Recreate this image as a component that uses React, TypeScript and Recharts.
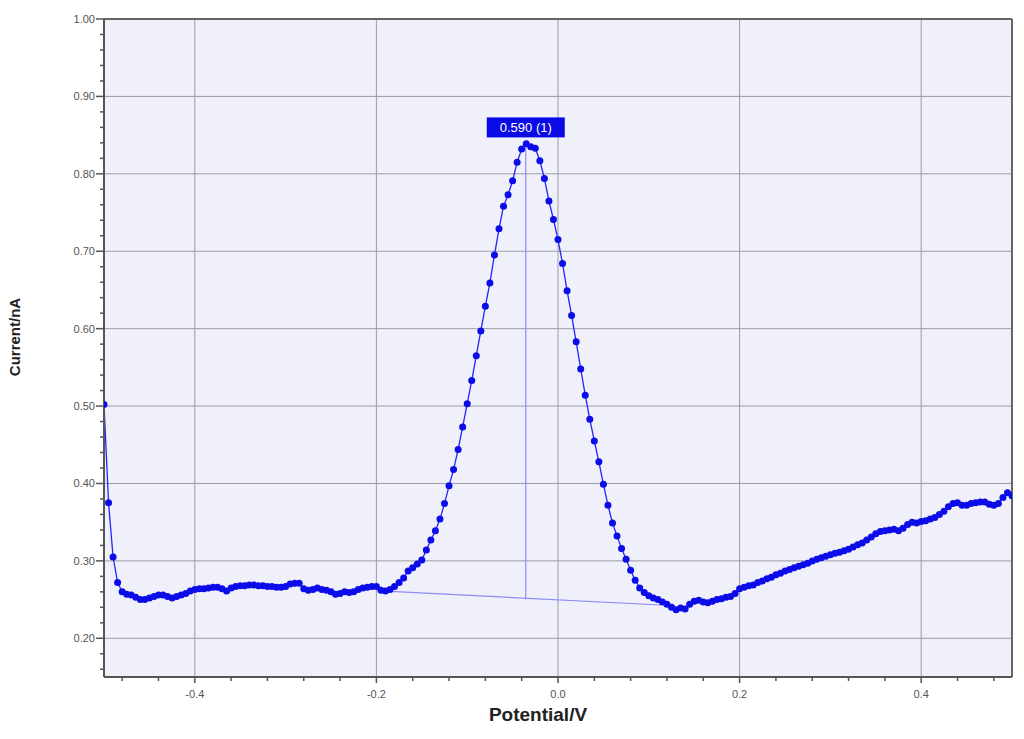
import React from 'react';
import {
  LineChart,
  Line,
  XAxis,
  YAxis,
  CartesianGrid,
  ReferenceLine,
  ReferenceDot,
} from 'recharts';

// Potential (V), sweep grid of the instrument
const POTENTIAL: number[] = [
  -0.5, -0.495, -0.49, -0.485, -0.48, -0.475, -0.47, -0.465, -0.46, -0.455,
  -0.45, -0.445, -0.44, -0.435, -0.43, -0.425, -0.42, -0.415, -0.41, -0.405,
  -0.4, -0.395, -0.39, -0.385, -0.38, -0.375, -0.37, -0.365, -0.36, -0.355,
  -0.35, -0.345, -0.34, -0.335, -0.33, -0.325, -0.32, -0.315, -0.31, -0.305,
  -0.3, -0.295, -0.29, -0.285, -0.28, -0.275, -0.27, -0.265, -0.26, -0.255,
  -0.25, -0.245, -0.24, -0.235, -0.23, -0.225, -0.22, -0.215, -0.21, -0.205,
  -0.2, -0.195, -0.19, -0.185, -0.18, -0.175, -0.17, -0.165, -0.16, -0.155,
  -0.15, -0.145, -0.14, -0.135, -0.13, -0.125, -0.12, -0.115, -0.11, -0.105,
  -0.1, -0.095, -0.09, -0.085, -0.08, -0.075, -0.07, -0.065, -0.06, -0.055,
  -0.05, -0.045, -0.04, -0.035, -0.03, -0.025, -0.02, -0.015, -0.01, -0.005,
  0, 0.005, 0.01, 0.015, 0.02, 0.025, 0.03, 0.035, 0.04, 0.045,
  0.05, 0.055, 0.06, 0.065, 0.07, 0.075, 0.08, 0.085, 0.09, 0.095,
  0.1, 0.105, 0.11, 0.115, 0.12, 0.125, 0.13, 0.135, 0.14, 0.145,
  0.15, 0.155, 0.16, 0.165, 0.17, 0.175, 0.18, 0.185, 0.19, 0.195,
  0.2, 0.205, 0.21, 0.215, 0.22, 0.225, 0.23, 0.235, 0.24, 0.245,
  0.25, 0.255, 0.26, 0.265, 0.27, 0.275, 0.28, 0.285, 0.29, 0.295,
  0.3, 0.305, 0.31, 0.315, 0.32, 0.325, 0.33, 0.335, 0.34, 0.345,
  0.35, 0.355, 0.36, 0.365, 0.37, 0.375, 0.38, 0.385, 0.39, 0.395,
  0.4, 0.405, 0.41, 0.415, 0.42, 0.425, 0.43, 0.435, 0.44, 0.445,
  0.45, 0.455, 0.46, 0.465, 0.47, 0.475, 0.48, 0.485, 0.49, 0.495,
  0.5,
];

// Current (nA)
const CURRENT: number[] = [
  0.502, 0.375, 0.305, 0.272, 0.26, 0.257, 0.256, 0.253, 0.25, 0.25,
  0.252, 0.254, 0.256, 0.256, 0.254, 0.252, 0.254, 0.256, 0.258, 0.261,
  0.263, 0.264, 0.264, 0.265, 0.266, 0.266, 0.264, 0.261, 0.265, 0.267,
  0.268, 0.268, 0.269, 0.269, 0.268, 0.268, 0.267, 0.267, 0.266, 0.266,
  0.267, 0.27, 0.271, 0.271, 0.264, 0.262, 0.263, 0.265, 0.263, 0.262,
  0.26, 0.257, 0.258, 0.26, 0.259, 0.26, 0.263, 0.265, 0.266, 0.267,
  0.267, 0.262, 0.261, 0.263, 0.267, 0.272, 0.278, 0.287, 0.291, 0.296,
  0.301, 0.314, 0.327, 0.339, 0.354, 0.374, 0.397, 0.418, 0.444, 0.473,
  0.503, 0.533, 0.565, 0.597, 0.629, 0.659, 0.695, 0.729, 0.758, 0.773,
  0.791, 0.815, 0.832, 0.839, 0.835, 0.833, 0.817, 0.794, 0.765, 0.741,
  0.715, 0.684, 0.649, 0.617, 0.583, 0.548, 0.514, 0.483, 0.455, 0.428,
  0.399, 0.372, 0.349, 0.332, 0.316, 0.302, 0.288, 0.275, 0.265, 0.259,
  0.255, 0.252, 0.25, 0.247, 0.244, 0.24, 0.237, 0.239, 0.238, 0.244,
  0.248, 0.249, 0.247, 0.246, 0.248, 0.25, 0.251, 0.253, 0.254, 0.258,
  0.264, 0.266, 0.268, 0.269, 0.272, 0.274, 0.277, 0.279, 0.282, 0.284,
  0.287, 0.289, 0.291, 0.293, 0.295, 0.297, 0.3, 0.302, 0.304, 0.306,
  0.308, 0.31, 0.311, 0.313, 0.315, 0.318, 0.321, 0.323, 0.327, 0.331,
  0.335, 0.338, 0.339, 0.34, 0.341, 0.339, 0.342, 0.347, 0.35, 0.349,
  0.351, 0.352, 0.354, 0.356, 0.36, 0.364, 0.37, 0.374, 0.375, 0.372,
  0.372, 0.374, 0.375, 0.376, 0.376, 0.373, 0.372, 0.374, 0.382, 0.388,
  0.384,
];

// Peak baseline and peak marker
const BASELINE_START = { x: -0.19, y: 0.261 };
const BASELINE_END = { x: 0.113, y: 0.243 };
const PEAK = { x: -0.0355, y: 0.838, base: 0.25 };
const PEAK_LABEL = '0.590 (1)';

// Ticks
const X_TICKS: number[] = [
  -0.48, -0.44, -0.4, -0.36, -0.32, -0.28, -0.24, -0.2, -0.16, -0.12, -0.08, -0.04,
  0, 0.04, 0.08, 0.12, 0.16, 0.2, 0.24, 0.28, 0.32, 0.36, 0.4, 0.44, 0.48,
];
const X_MAJOR: number[] = [-0.4, -0.2, 0, 0.2, 0.4];
const X_LABELS: string[] = ['-0.4', '-0.2', '0.0', '0.2', '0.4'];
const Y_TICKS: number[] = [
  0.16, 0.18, 0.2, 0.22, 0.24, 0.26, 0.28, 0.3, 0.32, 0.34, 0.36, 0.38, 0.4, 0.42,
  0.44, 0.46, 0.48, 0.5, 0.52, 0.54, 0.56, 0.58, 0.6, 0.62, 0.64, 0.66, 0.68, 0.7,
  0.72, 0.74, 0.76, 0.78, 0.8, 0.82, 0.84, 0.86, 0.88, 0.9, 0.92, 0.94, 0.96, 0.98, 1.0,
];
const Y_MAJOR: number[] = [0.2, 0.3, 0.4, 0.5, 0.6, 0.7, 0.8, 0.9, 1.0];
const Y_LABELS: string[] = ['0.20', '0.30', '0.40', '0.50', '0.60', '0.70', '0.80', '0.90', '1.00'];

const data = POTENTIAL.map((p, i) => ({ p, c: CURRENT[i] }));

const FONT = '"Liberation Sans", Arial, sans-serif';
const AXIS_COLOR = '#555';

const findMajor = (list: number[], v: number) =>
  list.findIndex((m) => Math.abs(m - v) < 1e-6);

const XTick = (props: any) => {
  const { x, y, payload } = props;
  const idx = findMajor(X_MAJOR, payload.value);
  const major = idx >= 0;
  return (
    <g>
      <line x1={x} x2={x} y1={y} y2={y + (major ? 6 : 4)} stroke={AXIS_COLOR} strokeWidth={1.5} />
      {major && (
        <text x={x} y={y + 21} textAnchor="middle" fontSize={11} fill="#555" fontFamily={FONT}>
          {X_LABELS[idx]}
        </text>
      )}
    </g>
  );
};

const YTick = (props: any) => {
  const { x, y, payload } = props;
  const idx = findMajor(Y_MAJOR, payload.value);
  const major = idx >= 0;
  return (
    <g>
      <line x1={x - (major ? 8 : 4)} x2={x} y1={y} y2={y} stroke={AXIS_COLOR} strokeWidth={1.5} />
      {major && (
        <text x={x - 9} y={y + 4} textAnchor="end" fontSize={11} fill="#555" fontFamily={FONT}>
          {Y_LABELS[idx]}
        </text>
      )}
    </g>
  );
};

const PeakLabel = (props: any) => {
  const { cx, cy } = props;
  return (
    <g>
      <rect x={cx - 39} y={cy - 27} width={78} height={20} fill="#0a0ae6" />
      <text
        x={cx}
        y={cy - 12.5}
        textAnchor="middle"
        fontSize={13}
        fill="#ffffff"
        fontFamily={FONT}
      >
        {PEAK_LABEL}
      </text>
    </g>
  );
};

export default function App() {
  return (
    <div
      style={{
        position: 'absolute',
        left: 0,
        top: 0,
        width: 1024,
        height: 739,
        background: '#ffffff',
      }}
    >
      <LineChart
        width={1024}
        height={739}
        data={data}
        margin={{ top: 19, right: 12, bottom: 0, left: 0 }}
      >
        <CartesianGrid
          fill="#f0f0fb"
          stroke="#9c9ca6"
          strokeWidth={1}
          horizontalValues={Y_MAJOR}
          verticalValues={X_MAJOR}
        />
        <XAxis
          dataKey="p"
          type="number"
          domain={[-0.5, 0.5]}
          allowDataOverflow
          ticks={X_TICKS}
          interval={0}
          tickSize={0}
          tickMargin={0}
          tickLine={false}
          tick={<XTick />}
          height={62}
          axisLine={{ stroke: AXIS_COLOR, strokeWidth: 2 }}
          label={{
            value: 'Potential/V',
            position: 'center',
            dx: -20,
            dy: 6,
            style: { fontFamily: FONT, fontSize: 19, fontWeight: 'bold', fill: '#222' },
          }}
        />
        <YAxis
          type="number"
          domain={[0.15, 1.0]}
          allowDataOverflow
          ticks={Y_TICKS}
          interval={0}
          tickSize={0}
          tickMargin={0}
          tickLine={false}
          tick={<YTick />}
          width={104}
          axisLine={{ stroke: AXIS_COLOR, strokeWidth: 2 }}
          label={{
            value: 'Current/nA',
            angle: -90,
            position: 'center',
            dx: -37,
            dy: -11,
            style: { fontFamily: FONT, fontSize: 15, fontWeight: 'bold', fill: '#222' },
          }}
        />
        <ReferenceLine y={1.0} stroke="#666" strokeWidth={2} />
        <ReferenceLine x={0.5} stroke="#666" strokeWidth={2} />
        <ReferenceLine
          segment={[BASELINE_START, BASELINE_END]}
          stroke="#8c8cf5"
          strokeWidth={1.2}
        />
        <ReferenceLine
          segment={[
            { x: PEAK.x, y: PEAK.y },
            { x: PEAK.x, y: PEAK.base },
          ]}
          stroke="#8c8cf5"
          strokeWidth={1.2}
        />
        <Line
          type="linear"
          dataKey="c"
          stroke="#2323ff"
          strokeWidth={1.3}
          dot={{ r: 3.5, fill: '#0c0ce8', stroke: 'none' }}
          isAnimationActive={false}
        />
        <ReferenceDot x={PEAK.x} y={PEAK.y} r={0} shape={<PeakLabel />} />
      </LineChart>
    </div>
  );
}
